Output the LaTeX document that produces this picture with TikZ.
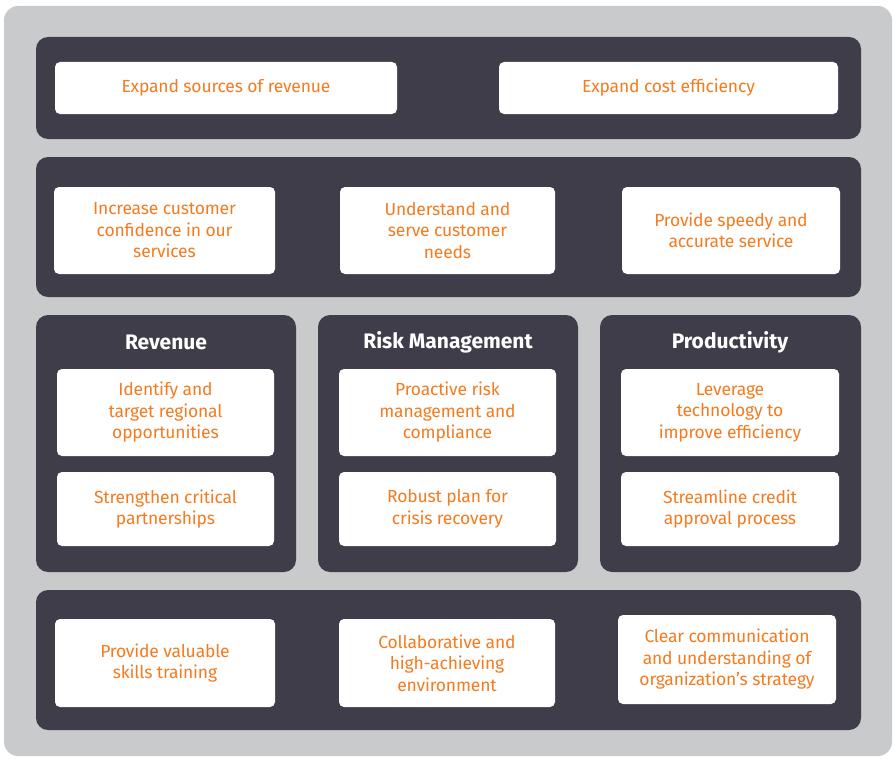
\documentclass[tikz,border=0pt]{standalone}
\usepackage{fontspec}
\setmainfont{Fira Sans}
\definecolor{bgg}{HTML}{C9CACB}
\definecolor{dk}{HTML}{403D4B}
\definecolor{org}{HTML}{F47B20}
\begin{document}
\begin{tikzpicture}[x=1pt,y=-1pt,
 panel/.style={fill=dk,rounded corners=12pt},
 wb/.style={fill=white,rounded corners=5pt,text=org,align=center,font=\fontsize{17.5}{21.5}\selectfont\addfontfeature{LetterSpace=-1}},
 ttl/.style={text=white,font=\fontsize{21}{25}\selectfont\bfseries}]
\useasboundingbox (0,0) rectangle (896,760);
\fill[bgg,rounded corners=14pt] (4,6) rectangle (892,756);
\newcommand{\bx}[5]{\node[wb,minimum width=#3-#1,minimum height=#4-#2] (#5) at ({(#1+#3)/2},{(#2+#4)/2})}
% row 1
\fill[panel] (36,37) rectangle (861,139);
\bx{55}{62}{397}{114}{a1}{Expand sources of revenue};
\bx{499}{62}{838}{114}{a2}{Expand cost efficiency};
% row 2
\fill[panel] (36,157) rectangle (861,297);
\bx{54}{187}{275}{274}{b1}{Increase customer\\confidence in our\\services};
\bx{340}{187}{555}{274}{b2}{Understand and\\serve customer\\needs};
\bx{622}{187}{840}{274}{b3}{Provide speedy and\\accurate service};
% row 3
\fill[panel] (36,315) rectangle (296,572);
\fill[panel] (318,315) rectangle (578,572);
\fill[panel] (600,315) rectangle (861,572);
\node[ttl] (t1) at (166,342) {Revenue};
\node[ttl] (t2) at (448,342) {Risk Management};
\node[ttl] (t3) at (730,342) {Productivity};
\bx{57}{369}{274}{456}{c1}{Identify and\\target regional\\opportunities};
\bx{57}{472}{274}{546}{c2}{Strengthen critical\\partnerships};
\bx{339}{369}{556}{456}{c3}{Proactive risk\\management and\\compliance};
\bx{339}{472}{556}{546}{c4}{Robust plan for\\crisis recovery};
\bx{621}{369}{839}{456}{c5}{Leverage\\technology to\\improve efficiency};
\bx{621}{472}{839}{546}{c6}{Streamline credit\\approval process};
% row 4
\fill[panel] (36,590) rectangle (861,730);
\bx{55}{619}{275}{707}{d1}{Provide valuable\\skills training};
\bx{339}{619}{555}{707}{d2}{Collaborative and\\high-achieving\\environment};
\bx{618}{615}{836}{704}{d3}{Clear communication\\and understanding of\\organization's strategy};
\end{tikzpicture}
\end{document}
